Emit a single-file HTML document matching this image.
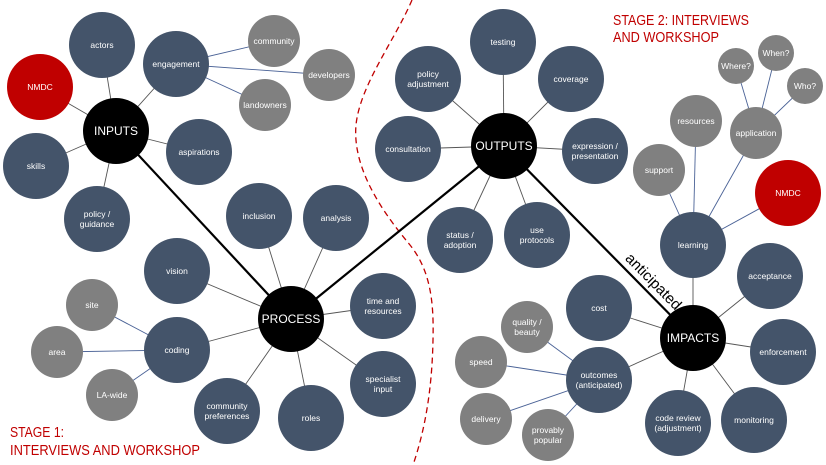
<!DOCTYPE html>
<html><head><meta charset="utf-8"><style>
html,body{margin:0;padding:0;background:#fff;}
svg{display:block;}
text{font-family:"Liberation Sans",sans-serif;}
.n text{fill:#fff;font-size:8.5px;text-anchor:middle;}
.h text{fill:#fff;font-size:12px;text-anchor:middle;}
</style></head><body>
<svg width="826" height="465" viewBox="0 0 826 465" xmlns="http://www.w3.org/2000/svg">
<path d="M412,0 C395,40 360,85 356,125 C352,170 385,215 410,245 C430,270 434,300 433,340 C432,390 425,430 413,465" fill="none" stroke="#c00000" stroke-width="1.3" stroke-dasharray="6,4"/>
<g stroke="#000" stroke-width="2.2">
<line x1="116" y1="131" x2="291" y2="319"/>
<line x1="504" y1="146" x2="291" y2="319"/>
<line x1="504" y1="146" x2="693" y2="338"/>
</g>
<g stroke="#555" stroke-width="0.9">
<line x1="116" y1="131" x2="102" y2="45"/>
<line x1="116" y1="131" x2="176" y2="64"/>
<line x1="116" y1="131" x2="40" y2="87"/>
<line x1="116" y1="131" x2="199" y2="152"/>
<line x1="116" y1="131" x2="36" y2="166"/>
<line x1="116" y1="131" x2="97" y2="219"/>
<line x1="291" y1="319" x2="259" y2="216"/>
<line x1="291" y1="319" x2="336" y2="218"/>
<line x1="291" y1="319" x2="177" y2="271"/>
<line x1="291" y1="319" x2="177" y2="350"/>
<line x1="291" y1="319" x2="383" y2="306"/>
<line x1="291" y1="319" x2="383" y2="384"/>
<line x1="291" y1="319" x2="227" y2="411"/>
<line x1="291" y1="319" x2="311" y2="418"/>
<line x1="504" y1="146" x2="503" y2="42"/>
<line x1="504" y1="146" x2="428" y2="79"/>
<line x1="504" y1="146" x2="571" y2="79"/>
<line x1="504" y1="146" x2="408" y2="149"/>
<line x1="504" y1="146" x2="595" y2="151"/>
<line x1="504" y1="146" x2="460" y2="240"/>
<line x1="504" y1="146" x2="537" y2="235"/>
<line x1="693" y1="338" x2="693" y2="245"/>
<line x1="693" y1="338" x2="770" y2="276"/>
<line x1="693" y1="338" x2="783" y2="352"/>
<line x1="693" y1="338" x2="754" y2="420"/>
<line x1="693" y1="338" x2="678" y2="423"/>
<line x1="693" y1="338" x2="599" y2="380"/>
<line x1="693" y1="338" x2="599" y2="308"/>
</g>
<g stroke="#4a6296" stroke-width="0.9">
<line x1="176" y1="64" x2="274" y2="41"/>
<line x1="176" y1="64" x2="329" y2="75"/>
<line x1="176" y1="64" x2="265" y2="105"/>
<line x1="177" y1="350" x2="92" y2="305"/>
<line x1="177" y1="350" x2="57" y2="352"/>
<line x1="177" y1="350" x2="112" y2="395"/>
<line x1="599" y1="380" x2="527" y2="327"/>
<line x1="599" y1="380" x2="481" y2="362"/>
<line x1="599" y1="380" x2="486" y2="419"/>
<line x1="599" y1="380" x2="548" y2="435"/>
<line x1="693" y1="245" x2="659" y2="170"/>
<line x1="693" y1="245" x2="696" y2="121"/>
<line x1="693" y1="245" x2="756" y2="133"/>
<line x1="693" y1="245" x2="788" y2="193"/>
<line x1="756" y1="133" x2="736" y2="66"/>
<line x1="756" y1="133" x2="776" y2="53"/>
<line x1="756" y1="133" x2="805" y2="86"/>
</g>
<g class="n" fill="#44546a">
<circle cx="102" cy="45" r="33"/><text x="102" y="48">actors</text>
<circle cx="176" cy="64" r="33"/><text x="176" y="67">engagement</text>
<circle cx="199" cy="152" r="33"/><text x="199" y="155">aspirations</text>
<circle cx="36" cy="166" r="33"/><text x="36" y="169">skills</text>
<circle cx="97" cy="219" r="33"/><text x="97" y="217">policy /</text><text x="97" y="227">guidance</text>
<circle cx="259" cy="216" r="33"/><text x="259" y="219">inclusion</text>
<circle cx="336" cy="218" r="33"/><text x="336" y="221">analysis</text>
<circle cx="177" cy="271" r="33"/><text x="177" y="274">vision</text>
<circle cx="177" cy="350" r="33"/><text x="177" y="353">coding</text>
<circle cx="383" cy="306" r="33"/><text x="383" y="304">time and</text><text x="383" y="314">resources</text>
<circle cx="383" cy="384" r="33"/><text x="383" y="382">specialist</text><text x="383" y="392">input</text>
<circle cx="227" cy="411" r="33"/><text x="227" y="409">community</text><text x="227" y="419">preferences</text>
<circle cx="311" cy="418" r="33"/><text x="311" y="421">roles</text>
<circle cx="503" cy="42" r="33"/><text x="503" y="45">testing</text>
<circle cx="428" cy="79" r="33"/><text x="428" y="77">policy</text><text x="428" y="87">adjustment</text>
<circle cx="571" cy="79" r="33"/><text x="571" y="82">coverage</text>
<circle cx="408" cy="149" r="33"/><text x="408" y="152">consultation</text>
<circle cx="595" cy="151" r="33"/><text x="595" y="149">expression /</text><text x="595" y="159">presentation</text>
<circle cx="460" cy="240" r="33"/><text x="460" y="238">status /</text><text x="460" y="248">adoption</text>
<circle cx="537" cy="235" r="33"/><text x="537" y="233">use</text><text x="537" y="243">protocols</text>
<circle cx="693" cy="245" r="33"/><text x="693" y="248">learning</text>
<circle cx="770" cy="276" r="33"/><text x="770" y="279">acceptance</text>
<circle cx="783" cy="352" r="33"/><text x="783" y="355">enforcement</text>
<circle cx="599" cy="308" r="33"/><text x="599" y="311">cost</text>
<circle cx="599" cy="380" r="33"/><text x="599" y="378">outcomes</text><text x="599" y="388">(anticipated)</text>
<circle cx="678" cy="423" r="33"/><text x="678" y="421">code review</text><text x="678" y="431">(adjustment)</text>
<circle cx="754" cy="420" r="33"/><text x="754" y="423">monitoring</text>
</g>
<g class="n" fill="#808080">
<circle cx="274" cy="41" r="26"/><text x="274" y="44">community</text>
<circle cx="329" cy="75" r="26"/><text x="329" y="78">developers</text>
<circle cx="265" cy="105" r="26"/><text x="265" y="108">landowners</text>
<circle cx="92" cy="305" r="26"/><text x="92" y="308">site</text>
<circle cx="57" cy="352" r="26"/><text x="57" y="355">area</text>
<circle cx="112" cy="395" r="26"/><text x="112" y="398">LA-wide</text>
<circle cx="527" cy="327" r="26"/><text x="527" y="325">quality /</text><text x="527" y="335">beauty</text>
<circle cx="481" cy="362" r="26"/><text x="481" y="365">speed</text>
<circle cx="486" cy="419" r="26"/><text x="486" y="422">delivery</text>
<circle cx="548" cy="435" r="26"/><text x="548" y="433">provably</text><text x="548" y="443">popular</text>
<circle cx="659" cy="170" r="26"/><text x="659" y="173">support</text>
<circle cx="696" cy="121" r="26"/><text x="696" y="124">resources</text>
<circle cx="756" cy="133" r="26"/><text x="756" y="136">application</text>
<circle cx="736" cy="66" r="18"/><text x="736" y="69">Where?</text>
<circle cx="776" cy="53" r="18"/><text x="776" y="56">When?</text>
<circle cx="805" cy="86" r="18"/><text x="805" y="89">Who?</text>
</g>
<g class="n" fill="#c00000">
<circle cx="40" cy="87" r="33"/><text x="40" y="90">NMDC</text>
<circle cx="788" cy="193" r="33"/><text x="788" y="196">NMDC</text>
</g>
<g class="h" fill="#000">
<circle cx="116" cy="131" r="33"/><text x="116" y="135">INPUTS</text>
<circle cx="291" cy="319" r="33"/><text x="291" y="323">PROCESS</text>
<circle cx="504" cy="146" r="33"/><text x="504" y="150">OUTPUTS</text>
<circle cx="693" cy="338" r="33"/><text x="693" y="342">IMPACTS</text>
</g>
<text x="0" y="0" font-size="15" fill="#000" text-anchor="middle" transform="translate(650,285) rotate(45.4)">anticipated</text>
<g fill="#c00000" font-size="15">
<text x="613" y="25" textLength="136" lengthAdjust="spacingAndGlyphs">STAGE 2: INTERVIEWS</text>
<text x="613" y="42" textLength="106" lengthAdjust="spacingAndGlyphs">AND WORKSHOP</text>
<text x="10" y="437" textLength="54" lengthAdjust="spacingAndGlyphs">STAGE 1:</text>
<text x="10" y="455" textLength="190" lengthAdjust="spacingAndGlyphs">INTERVIEWS AND WORKSHOP</text>
</g>
</svg>
</body></html>
